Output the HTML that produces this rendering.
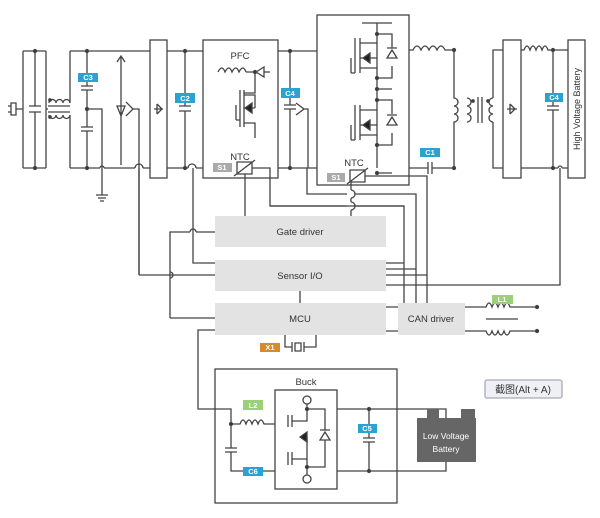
<!DOCTYPE html><html><head><style>body{margin:0;background:#fff}svg{display:block;font-family:"Liberation Sans",sans-serif}</style></head><body>
<svg width="600" height="518" viewBox="0 0 600 518" fill="none" stroke="#444" stroke-width="1.3">
<!-- input section -->
<path d="M23 51V168M46 51V168M23 51H46M23 168H46"/>
<path d="M35 51V106M35 112V168M29 106H41M29 112H41"/>
<circle cx="35" cy="51" r="1.5" fill="#333"/><circle cx="35" cy="168" r="1.5" fill="#333"/>
<path d="M16 109H23M11 103h5v12h-5zM8 106h3M8 112h3"/>
<path d="M46 109H48M48 106h22M48 112h22" />
<path d="M49 103a3.5 3.5 0 0 1 7 0a3.5 3.5 0 0 1 7 0a3.5 3.5 0 0 1 7 0M49 115a3.5 3.5 0 0 0 7 0a3.5 3.5 0 0 0 7 0a3.5 3.5 0 0 0 7 0"/>
<circle cx="50" cy="100" r="1.2" fill="#333"/><circle cx="50" cy="117" r="1.2" fill="#333"/>
<path d="M70 51V103M70 115V168M70 51H150M70 168H100M104 168H135M143 168H150"/>
<path d="M100 168a2 2 0 0 1 4 0M135 168a4 4 0 0 1 8 0"/>
<path d="M87 51V86M81 86H93M81 90H93M87 90V127M81 127H93M81 131H93M87 131V168"/>
<circle cx="87" cy="51" r="1.5" fill="#333"/><circle cx="87" cy="109" r="1.5" fill="#333"/><circle cx="87" cy="168" r="1.5" fill="#333"/>
<path d="M87 109H102V195M96 195H108M98 198H106M100 201H104"/>
<path d="M121 56V165M117 62L121 56L125 62M117 106H125L121 116ZM126 102L133 109L126 116M133 109H139V275"/>
<rect x="150" y="40" width="17" height="138"/>
<path d="M154 109h9M157 104v10M157 104l5 5l-5 5"/>
<path d="M167 51H203M167 168H188M196 168H203M188 168a4 4 0 0 1 8 0"/>
<path d="M185 51V106M179 106H191M179 111H191M185 111V168"/>
<circle cx="185" cy="51" r="1.5" fill="#333"/><circle cx="185" cy="168" r="1.5" fill="#333"/>
<!-- PFC -->
<rect x="203" y="40" width="75" height="138"/>
<path d="M218 72q4 -8 7 0q4 -8 7 0q4 -8 7 0q4 -8 7 0M246 72H256M256 72l8 -5v10zM264 67v10M264 72H270M255 72V93H244M240 90V127M244 90V127M236 105v15M236 120h4M244 95H255V108M244 108H255M244 123H255V138"/>
<path d="M245 108l7 -5v10z" fill="#222"/>
<circle cx="255" cy="72" r="1.5" fill="#333"/>
<path d="M278 51H317M278 168H317"/>
<path d="M290 51V105M284 105H296M284 109H296M290 109V168M296 103L304 109L296 115M304 109H308V168"/>
<circle cx="290" cy="51" r="1.5" fill="#333"/><circle cx="290" cy="168" r="1.5" fill="#333"/>
<path d="M237 162h15v12h-15zM234 176L255 160M252 168H270V206H404V305M245 174V216"/>
<!-- inverter -->
<rect x="317" y="15" width="92" height="170"/>
<path d="M362 23H392M377 23V78M377 34H392V48M392 66V78H377M355 38V73M360 38V73M351 58v15M351 73h4M360 43H377M360 68H377M360 58H377"/>
<path d="M363 58l7 -5v10z" fill="#222"/>
<path d="M387 58h10l-5 -8zM387 48h10"/>
<path d="M377 78V168M377 89H392M377 100H392V114M392 133V145H377M355 105V140M360 105V140M351 125v15M351 140h4M360 110H377M360 135H377M360 125H377"/>
<path d="M363 125l7 -5v10z" fill="#222"/>
<path d="M387 125h10l-5 -8zM387 115h10"/>
<circle cx="377" cy="34" r="1.5" fill="#333"/><circle cx="377" cy="78" r="1.5" fill="#333"/><circle cx="377" cy="89" r="1.5" fill="#333"/><circle cx="377" cy="100" r="1.5" fill="#333"/><circle cx="377" cy="145" r="1.5" fill="#333"/><circle cx="377" cy="173" r="1.5" fill="#333"/>
<path d="M377 173H392M350 170h15v12h-15zM347 184L368 168M365 176H427V305M351 182V190M351 198V202M351 210V216M351 190a4 4 0 0 1 0 8M351 202a4 4 0 0 1 0 8"/>
<path d="M307 168V194H347M355 194H416V305"/>
<path d="M270 206H347M355 206H404"/>
<path d="M409 168H428M432 168H454M428 162v12M432 162v12M409 50H413q4 -8 8 0q4 -8 8 0q4 -8 8 0q4 -8 8 0H454"/>
<circle cx="454" cy="50" r="1.5" fill="#333"/><circle cx="454" cy="168" r="1.5" fill="#333"/>
<!-- transformer -->
<path d="M454 50V98a4 4 0 0 1 0 8a4 4 0 0 1 0 8a4 4 0 0 1 0 8V168"/>
<path d="M467 98a4 4 0 0 1 0 8a4 4 0 0 1 0 8a4 4 0 0 1 0 8M478 97V123M482 97V123M493 98a4 4 0 0 0 0 8a4 4 0 0 0 0 8a4 4 0 0 0 0 8"/>
<path d="M493 98V50H503M493 122V168H503"/>
<circle cx="473" cy="101" r="1.2" fill="#333"/><circle cx="488" cy="101" r="1.2" fill="#333"/>
<rect x="503" y="40" width="18" height="138"/>
<path d="M507 109h10M510 104v10M510 104l5 5l-5 5"/>
<path d="M521 50H524q3 -8 6 0q3 -8 6 0q3 -8 6 0q3 -8 6 0H568M521 168H558M562 168H568M558 168a2 2 0 0 1 4 0M560 168V285H386M553 50V106M547 106H559M547 110H559M553 110V168"/>
<circle cx="553" cy="50" r="1.5" fill="#333"/><circle cx="553" cy="168" r="1.5" fill="#333"/>
<rect x="568" y="40" width="17" height="138"/>
<!-- control wires -->
<path d="M139 275H215M170 318H215M170 318V232H190M196 232H215M190 232a3 3 0 0 1 6 0M193 180V263H215M193 180V168M139 168V275M170 272a3 3 0 0 1 0 6"/>
<path d="M386 263H404M386 269H416M386 275H427M300 291V303M386 307H398M386 331H398M215 330H198V409H231V424M231 424V448M225 448H237M225 452H237M231 452V471H275"/>
<!-- blocks -->
<g fill="#e3e3e3" stroke="none">
<rect x="215" y="216" width="171" height="31"/><rect x="215" y="260" width="171" height="31"/><rect x="215" y="303" width="171" height="32"/><rect x="398" y="303" width="67" height="32"/>
</g>
<!-- L1 -->
<path d="M465 307H486q3 -8 6 0q3 -8 6 0q3 -8 6 0q3 -8 6 0H537M465 331H486q3 8 6 0q3 8 6 0q3 8 6 0q3 8 6 0H537M486 319H518"/>
<circle cx="537" cy="307" r="1.5" fill="#333"/><circle cx="537" cy="331" r="1.5" fill="#333"/>
<!-- crystal -->
<path d="M285 335V347H292M295 343h6v8h-6zM292 342V352M304 342V352M304 347H316V335"/>
<!-- buck -->
<rect x="215" y="369" width="182" height="134"/>
<rect x="275" y="390" width="62" height="99"/>
<path d="M231 424H240q3 -8 6 0q3 -8 6 0q3 -8 6 0q3 -8 6 0H275"/>
<circle cx="231" cy="424" r="1.5" fill="#333"/>
<circle cx="307" cy="400" r="4"/><circle cx="307" cy="479" r="4"/>
<path d="M307 404V421H292M288 415v12M292 415v12M307 409H325V430M320 440h10l-5 -8zM320 430h10M325 440V467H307M307 437H300M292 452V465M288 452v13M292 459H307V475M307 437V459"/>
<path d="M300 437l7 -5v10z" fill="#222"/>
<circle cx="307" cy="409" r="1.5" fill="#333"/><circle cx="307" cy="467" r="1.5" fill="#333"/>
<path d="M337 409H446V418M337 471H446V462M369 409V438M363 438H375M363 442H375M369 442V471"/>
<circle cx="369" cy="409" r="1.5" fill="#333"/><circle cx="369" cy="471" r="1.5" fill="#333"/>
<path d="M417 418h10v-9h12v9h22v-9h14v9h1v44h-59z" fill="#666" stroke="none"/>
<!-- labels -->
<g stroke="none">
<rect x="78" y="73" width="20" height="9" fill="#2ba2d2"/><rect x="175" y="93" width="20" height="10" fill="#2ba2d2"/><rect x="281" y="88" width="19" height="10" fill="#2ba2d2"/><rect x="420" y="148" width="20" height="9" fill="#2ba2d2"/><rect x="545" y="93" width="18" height="9" fill="#2ba2d2"/>
<rect x="213" y="163" width="19" height="9" fill="#aaa"/><rect x="327" y="173" width="18" height="9" fill="#aaa"/>
<rect x="492" y="295" width="21" height="9" fill="#9ccf7a"/><rect x="243" y="400" width="20" height="10" fill="#9ccf7a"/>
<rect x="260" y="343" width="20" height="9" fill="#d68a2a"/>
<rect x="243" y="467" width="20" height="9" fill="#2ba2d2"/><rect x="358" y="424" width="19" height="9" fill="#2ba2d2"/>
</g>
<g fill="#fff" stroke="none" font-size="7.5" font-weight="bold" text-anchor="middle">
<text x="88" y="80">C3</text><text x="185" y="101">C2</text><text x="290" y="96">C4</text><text x="430" y="155">C1</text><text x="554" y="100">C4</text>
<text x="222" y="170">S1</text><text x="336" y="180">S1</text><text x="502" y="302">L1</text><text x="253" y="408">L2</text><text x="270" y="350">X1</text><text x="253" y="474">C6</text><text x="367" y="431">C5</text>
</g>
<g fill="#333" stroke="none" font-size="9.5" text-anchor="middle">
<text x="240" y="59">PFC</text><text x="240" y="160">NTC</text><text x="354" y="166">NTC</text>
<text x="300" y="235">Gate driver</text><text x="300" y="279">Sensor I/O</text><text x="300" y="322">MCU</text><text x="431" y="322">CAN driver</text><text x="306" y="385">Buck</text>
<text x="580" y="109" transform="rotate(-90 580 109)" font-size="9">High Voltage Battery</text>
</g>
<g fill="#fff" stroke="none" font-size="8.5" text-anchor="middle"><text x="446" y="439">Low Voltage</text><text x="446" y="452">Battery</text></g>
<rect x="485" y="380" width="77" height="18" rx="2" fill="#eef0f4" stroke="#aab"/>
<text x="523" y="393" fill="#333" stroke="none" font-size="10" text-anchor="middle" font-family="Liberation Sans,Noto Sans CJK SC,sans-serif">截图(Alt + A)</text>
</svg></body></html>
